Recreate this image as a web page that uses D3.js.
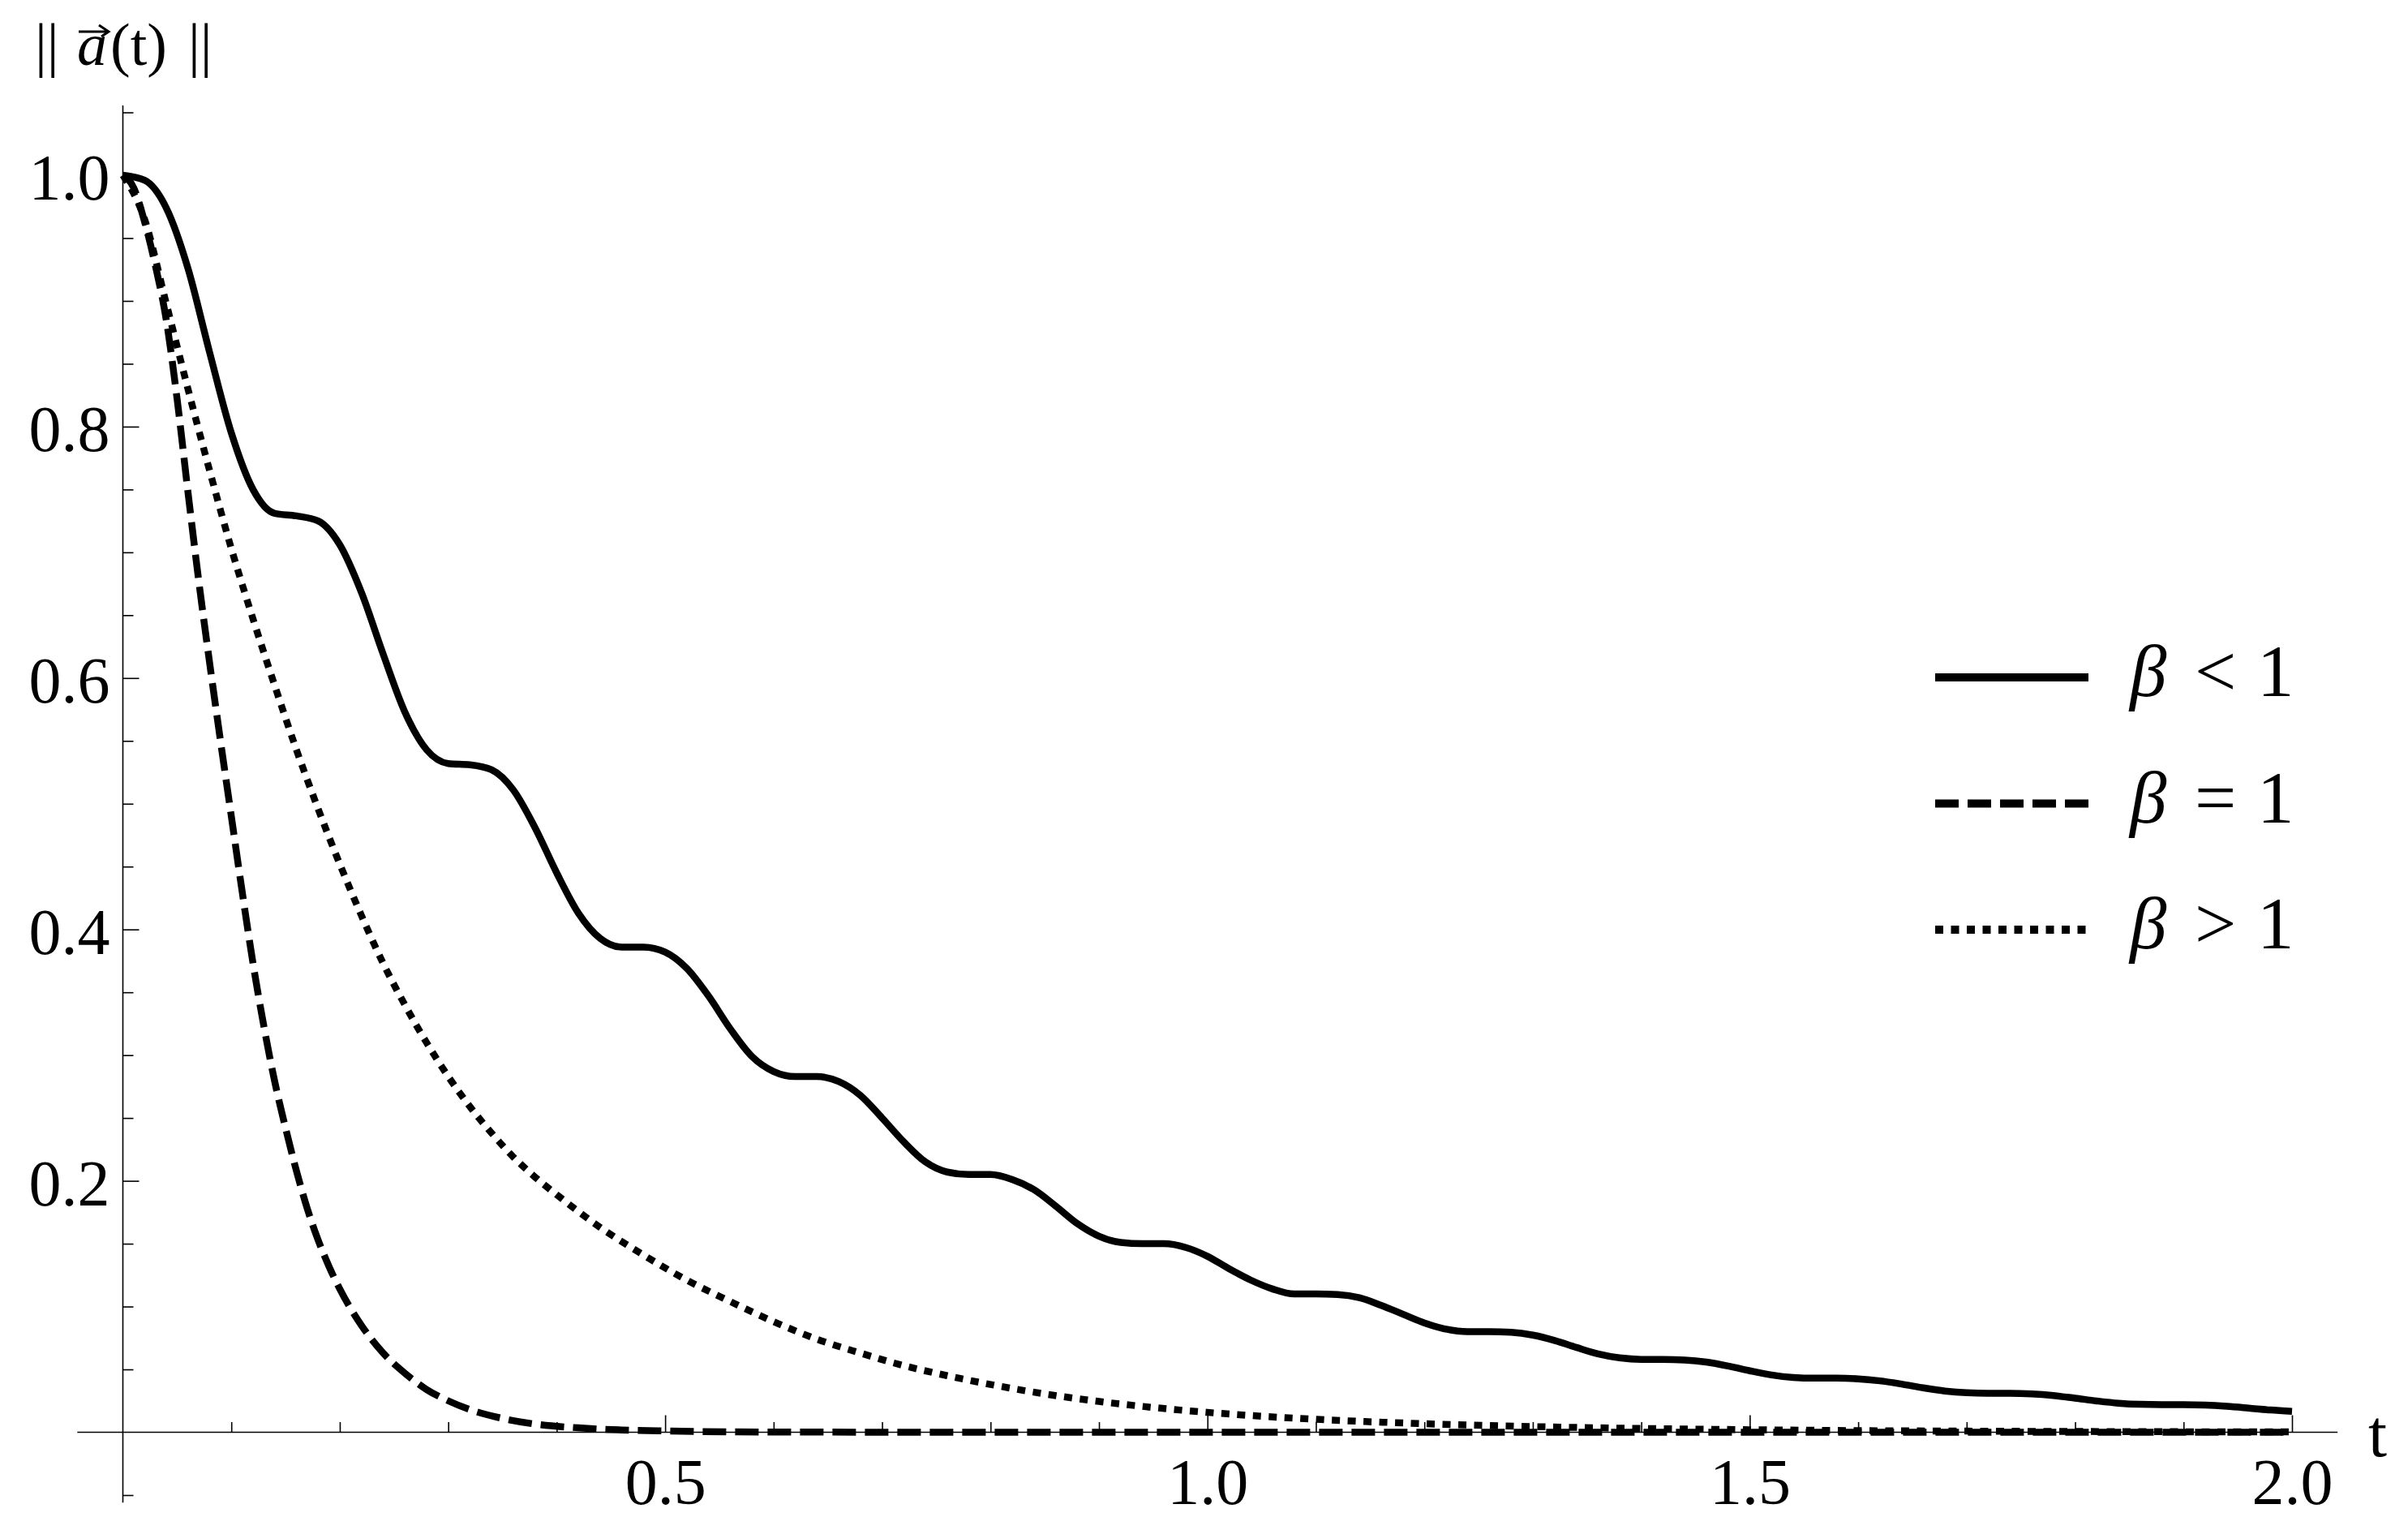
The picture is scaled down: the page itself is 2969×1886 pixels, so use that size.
<!DOCTYPE html>
<html>
<head>
<meta charset="utf-8">
<script src="https://cdn.jsdelivr.net/npm/d3@7"></script>
<style>
  body { margin: 0; background: #fff; }
  svg { display: block; }
</style>
</head>
<body>
<svg id="svg1" width="2969" height="1886"></svg>
<script>
// beta < 1 (solid)
var tUnder = [0, 0.02, 0.04, 0.06, 0.08, 0.10, 0.12, 0.14, 0.16, 0.18,
  0.20, 0.22, 0.24, 0.26, 0.28, 0.30, 0.32, 0.34, 0.36, 0.38,
  0.40, 0.42, 0.44, 0.46, 0.48, 0.50, 0.52, 0.54, 0.56, 0.58,
  0.60, 0.62, 0.64, 0.66, 0.68, 0.70, 0.72, 0.74, 0.76, 0.78,
  0.80, 0.82, 0.84, 0.86, 0.88, 0.90, 0.92, 0.94, 0.96, 0.98,
  1.00, 1.02, 1.04, 1.06, 1.08, 1.10, 1.12, 1.14, 1.16, 1.18,
  1.20, 1.22, 1.24, 1.26, 1.28, 1.30, 1.32, 1.34, 1.36, 1.38,
  1.40, 1.42, 1.44, 1.46, 1.48, 1.50, 1.52, 1.54, 1.56, 1.58,
  1.60, 1.62, 1.64, 1.66, 1.68, 1.70, 1.72, 1.74, 1.76, 1.78,
  1.80, 1.82, 1.84, 1.86, 1.88, 1.90, 1.92, 1.94, 1.96, 1.98, 2.00];
var aUnder = [1.000, 0.996, 0.974, 0.926, 0.859, 0.795, 0.750, 0.731, 0.729, 0.725,
  0.706, 0.668, 0.619, 0.573, 0.543, 0.532, 0.531, 0.527, 0.511, 0.481,
  0.445, 0.413, 0.393, 0.386, 0.386, 0.382, 0.369, 0.347, 0.321, 0.299,
  0.287, 0.283, 0.283, 0.279, 0.268, 0.250, 0.231, 0.215, 0.207, 0.205,
  0.205, 0.201, 0.193, 0.180, 0.166, 0.156, 0.151, 0.150, 0.150, 0.147,
  0.140, 0.130, 0.121, 0.114, 0.110, 0.110, 0.1095, 0.107, 0.101, 0.094,
  0.087, 0.082, 0.080, 0.080, 0.0795, 0.0773, 0.0730, 0.0675, 0.0624, 0.0592,
  0.0580, 0.0580, 0.0575, 0.0558, 0.0527, 0.0489, 0.0456, 0.0436, 0.0430, 0.0430,
  0.0425, 0.0409, 0.0383, 0.0353, 0.0328, 0.0314, 0.0310, 0.0310, 0.0305, 0.0292,
  0.0271, 0.0249, 0.0231, 0.0222, 0.0220, 0.0220, 0.0216, 0.0206, 0.0192, 0.0177, 0.0166];

// beta = 1 (dashed)
var tCrit = [0, 0.01, 0.02, 0.03, 0.04, 0.05, 0.06, 0.07, 0.08, 0.09,
  0.10, 0.11, 0.12, 0.13, 0.14, 0.15, 0.16, 0.17, 0.18, 0.19,
  0.20, 0.22, 0.24, 0.26, 0.28, 0.30, 0.32, 0.35, 0.38, 0.42,
  0.46, 0.50, 0.60, 0.80, 1.00, 1.50, 2.00];
var aCrit = [1.000, 0.990, 0.963, 0.928, 0.885, 0.822, 0.748, 0.677, 0.612, 0.550,
  0.490, 0.430, 0.373, 0.323, 0.279, 0.242, 0.208, 0.178, 0.153, 0.132,
  0.114, 0.085, 0.063, 0.047, 0.034, 0.025, 0.018, 0.011, 0.0065, 0.0035,
  0.0018, 0.0010, 0.0002, 0, 0, 0, 0];

// beta > 1 (dotted)
var tOver = [0, 0.02, 0.04, 0.06, 0.08, 0.10, 0.12, 0.14, 0.16, 0.18,
  0.20, 0.22, 0.24, 0.26, 0.28, 0.30, 0.32, 0.34, 0.36, 0.38,
  0.40, 0.44, 0.48, 0.52, 0.56, 0.60, 0.64, 0.68, 0.72, 0.76,
  0.80, 0.85, 0.90, 0.95, 1.00, 1.10, 1.20, 1.30, 1.40, 1.50,
  1.60, 1.70, 1.80, 1.90, 2.00];
var aOver = [1.000, 0.965, 0.898, 0.830, 0.765, 0.703, 0.647, 0.594, 0.543, 0.496,
  0.452, 0.411, 0.373, 0.340, 0.310, 0.283, 0.259, 0.238, 0.219, 0.203,
  0.189, 0.163, 0.141, 0.121, 0.104, 0.088, 0.074, 0.063, 0.053, 0.045,
  0.038, 0.0305, 0.0245, 0.0197, 0.0158, 0.0103, 0.0068, 0.0045, 0.0030, 0.0020,
  0.0013, 0.0009, 0.0006, 0.0004, 0.0003];

var xMajor = [0.5, 1.0, 1.5, 2.0];
var yMajor = [0.2, 0.4, 0.6, 0.8, 1.0];
var legendOps = ["<", "=", ">"];
var dashes = [null, "29,11", "10,9.5"];

var font = "'Liberation Serif', 'Times New Roman', serif";
var svg = d3.select("#svg1");

var x = d3.scaleLinear().domain([0, 2]).range([151.5, 2826]);
var y = d3.scaleLinear().domain([0, 1]).range([1765.5, 216]);

// minor tick values
var xMinor = d3.range(1, 21).map(function(i) { return i / 10; })
  .filter(function(v) { return xMajor.indexOf(v) < 0; });
var yMinor = d3.range(-1, 22).map(function(i) { return i / 20; })
  .filter(function(v) { return v !== 0 && yMajor.indexOf(v) < 0; });

// axis lines
svg.append("line")
  .attr("x1", x(-0.042)).attr("x2", x(2.042))
  .attr("y1", y(0)).attr("y2", y(0))
  .attr("stroke", "#000").attr("stroke-width", 1.6);
svg.append("line")
  .attr("x1", x(0)).attr("x2", x(0))
  .attr("y1", y(1.0555)).attr("y2", y(-0.056))
  .attr("stroke", "#000").attr("stroke-width", 1.6);

function styleAxis(g) {
  g.select(".domain").remove();
  g.selectAll(".tick line").attr("stroke", "#000").attr("stroke-width", 1.6);
  g.selectAll(".tick text")
    .attr("font-family", font).attr("font-size", 80).attr("fill", "#000");
}

svg.append("g")
  .attr("transform", "translate(0," + y(0) + ")")
  .call(d3.axisBottom(x).tickValues(xMinor).tickSize(-12.5).tickFormat(""))
  .call(styleAxis);
svg.append("g")
  .attr("transform", "translate(0," + y(0) + ")")
  .call(d3.axisBottom(x).tickValues(xMajor).tickSize(-21).tickPadding(32)
    .tickFormat(d3.format(".1f")))
  .call(styleAxis);

svg.append("g")
  .attr("transform", "translate(" + x(0) + ",0)")
  .call(d3.axisLeft(y).tickValues(yMinor).tickSize(-13).tickFormat(""))
  .call(styleAxis);
svg.append("g")
  .attr("transform", "translate(" + x(0) + ",0)")
  .call(d3.axisLeft(y).tickValues(yMajor).tickSize(-20).tickPadding(16)
    .tickFormat(d3.format(".1f")))
  .call(styleAxis)
  .selectAll(".tick text").attr("dy", "0.37em");

// axis labels
svg.append("text")
  .attr("x", 2920).attr("y", 1795)
  .attr("font-family", font).attr("font-size", 83)
  .text("t");

var ylab = svg.append("text")
  .attr("y", 80)
  .attr("font-family", font).attr("font-size", 74);
ylab.append("tspan").attr("x", 43).text("||");
ylab.append("tspan").attr("x", 95).attr("font-style", "italic").text("a");
ylab.append("tspan").attr("x", 136).text("(t)");
ylab.append("tspan").attr("x", 232).text("||");

// vector arrow over the a
svg.append("path")
  .attr("d", "M97,39L134,39M122,31L134,39L125,45")
  .attr("fill", "none").attr("stroke", "#000").attr("stroke-width", 3);

// curves
var series = [
  { t: tUnder, a: aUnder },
  { t: tCrit, a: aCrit },
  { t: tOver, a: aOver }
];

var line = d3.line()
  .x(function(d) { return x(d[0]); })
  .y(function(d) { return y(d[1]); })
  .curve(d3.curveMonotoneX);

series.forEach(function(s, i) {
  var pts = s.t.map(function(t, j) { return [t, s.a[j]]; });
  svg.append("path")
    .attr("d", line(pts))
    .attr("fill", "none")
    .attr("stroke", "#000")
    .attr("stroke-width", 8.5)
    .attr("stroke-linecap", "butt")
    .attr("stroke-linejoin", "round")
    .attr("stroke-dasharray", dashes[i]);
});

// legend
var legend = svg.selectAll(".legend")
  .data(legendOps)
  .enter()
  .append("g")
    .attr("class", "legend")
    .attr("transform", function(d, i) { return "translate(0," + (835 + i * 155.5) + ")"; });

legend.append("line")
  .attr("x1", 2386).attr("x2", 2575)
  .attr("stroke", "#000").attr("stroke-width", 10)
  .attr("stroke-dasharray", function(d, i) { return dashes[i]; });

var lt = legend.append("text")
  .attr("y", 23)
  .attr("font-family", font).attr("font-size", 91);
lt.append("tspan").attr("x", 2626).attr("font-style", "italic").text("\u03b2");
lt.append("tspan").attr("x", 2706).text(function(d) { return d; });
lt.append("tspan").attr("x", 2783).text("1");
</script>
</body>
</html>
